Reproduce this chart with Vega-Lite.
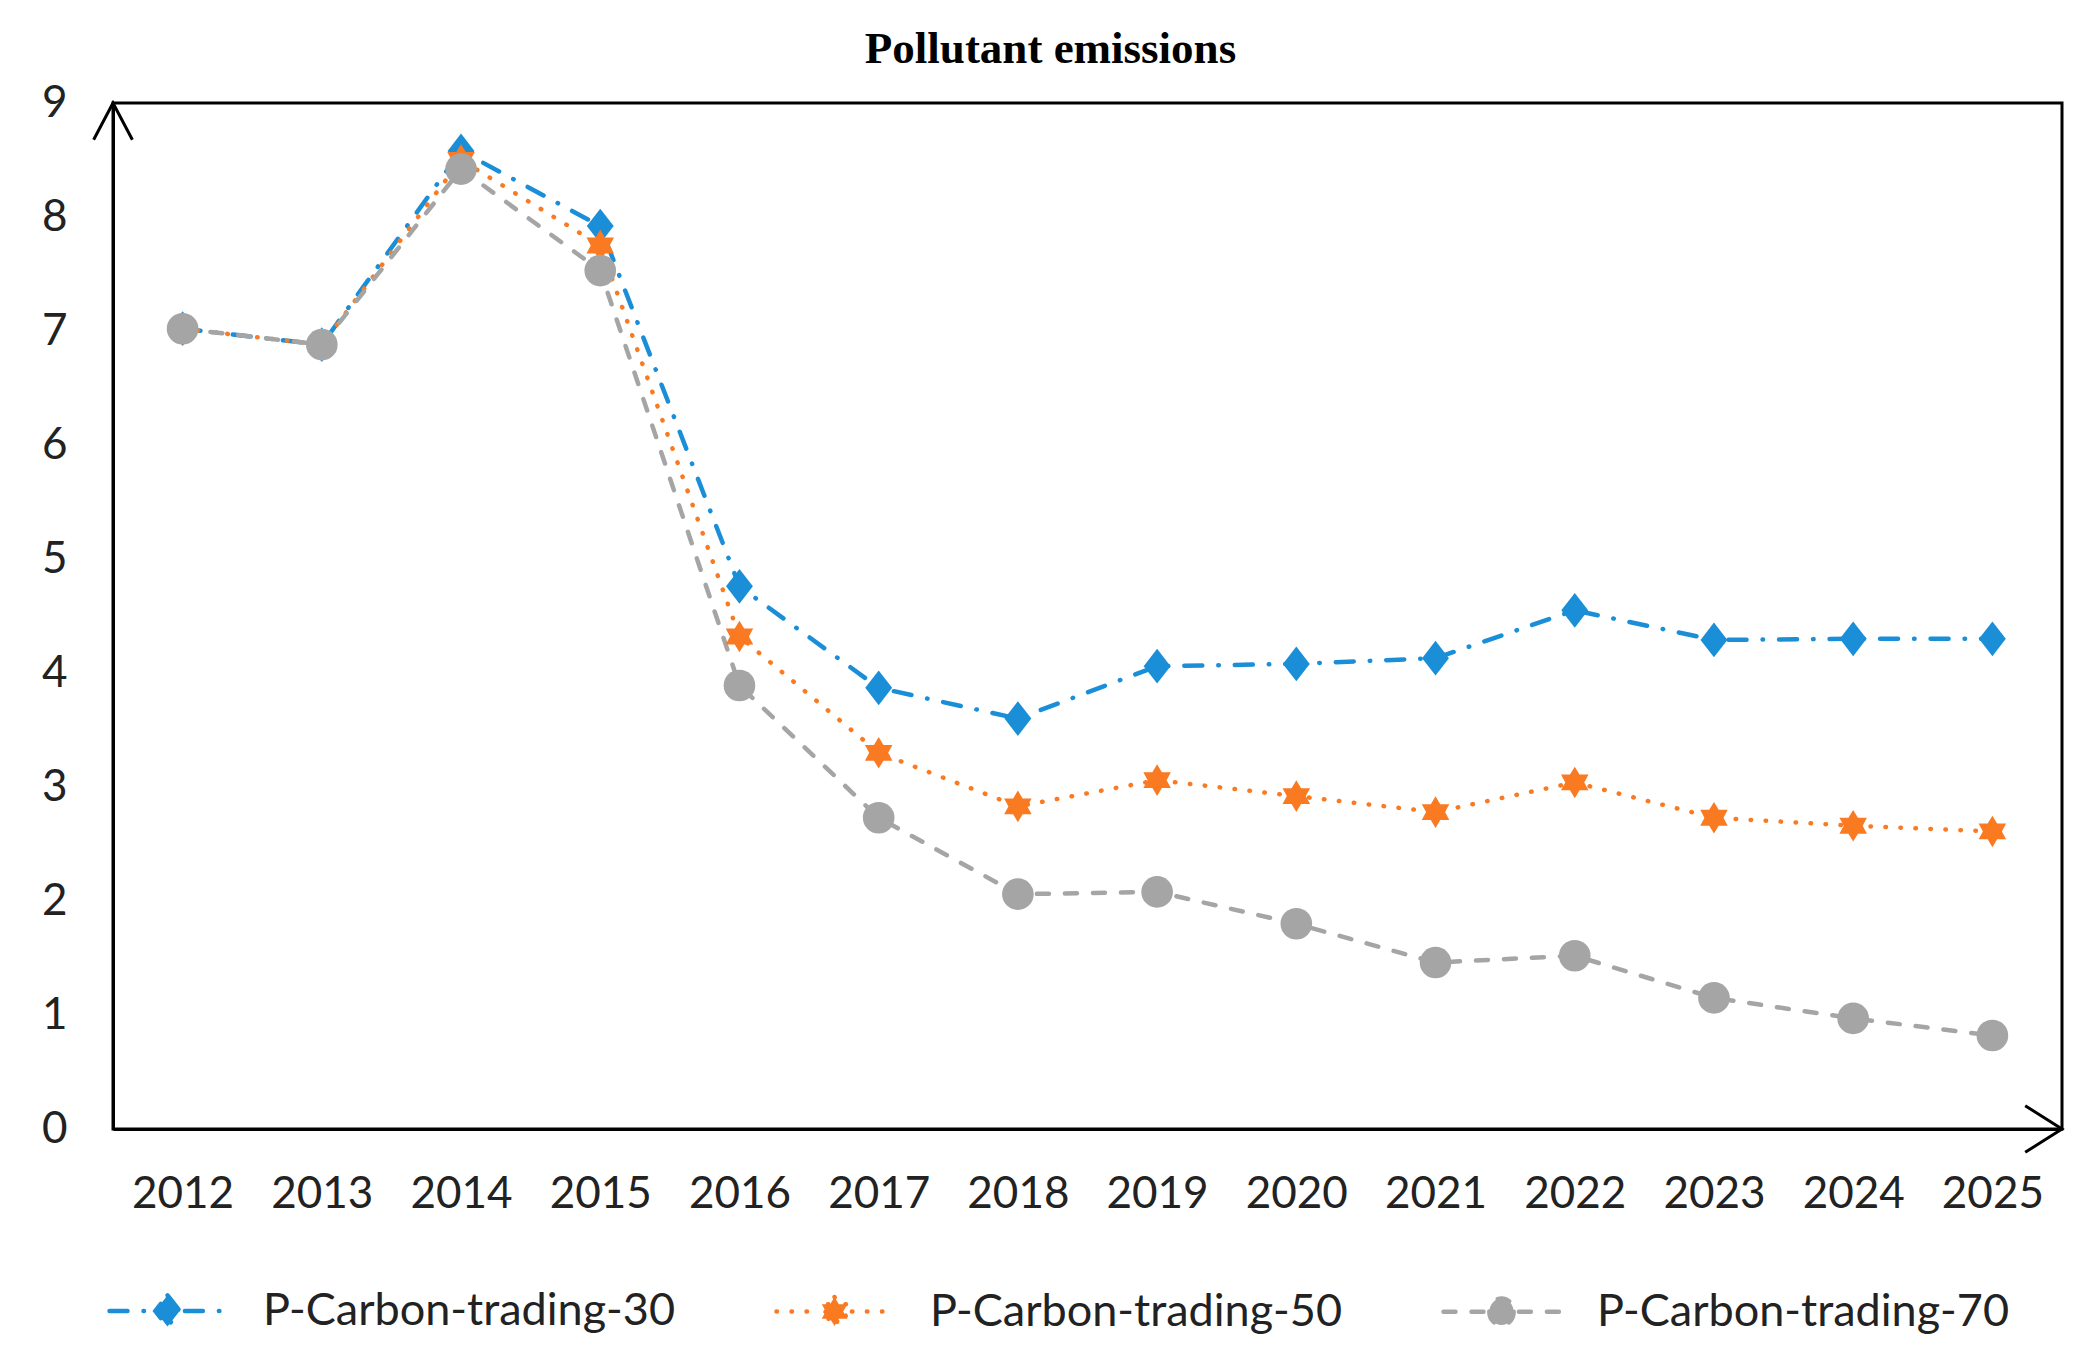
{
  "$schema": "https://vega.github.io/schema/vega-lite/v6.json",
  "autosize": {"type": "none"},
  "width": 1949,
  "height": 1026,
  "padding": {"left": 113, "top": 103, "right": 29, "bottom": 228},
  "background": "white",
  "config": {
    "view": {"stroke": "black", "strokeWidth": 3},
    "font": "Lato"
  },
  "title": {
    "text": "Pollutant emissions",
    "font": "Liberation Serif",
    "fontWeight": "bold",
    "fontSize": 45,
    "color": "black",
    "anchor": "middle",
    "offset": 9,
    "dx": -37
  },
  "resolve": {"scale": {"shape": "independent"}},
  "datasets": {
    "series": [
      {"year": 2012, "series": "P-Carbon-trading-30", "value": 7.02},
      {"year": 2013, "series": "P-Carbon-trading-30", "value": 6.88},
      {"year": 2014, "series": "P-Carbon-trading-30", "value": 8.58},
      {"year": 2015, "series": "P-Carbon-trading-30", "value": 7.92},
      {"year": 2016, "series": "P-Carbon-trading-30", "value": 4.76},
      {"year": 2017, "series": "P-Carbon-trading-30", "value": 3.87},
      {"year": 2018, "series": "P-Carbon-trading-30", "value": 3.6},
      {"year": 2019, "series": "P-Carbon-trading-30", "value": 4.06},
      {"year": 2020, "series": "P-Carbon-trading-30", "value": 4.08},
      {"year": 2021, "series": "P-Carbon-trading-30", "value": 4.13},
      {"year": 2022, "series": "P-Carbon-trading-30", "value": 4.55},
      {"year": 2023, "series": "P-Carbon-trading-30", "value": 4.29},
      {"year": 2024, "series": "P-Carbon-trading-30", "value": 4.3},
      {"year": 2025, "series": "P-Carbon-trading-30", "value": 4.3},
      {"year": 2012, "series": "P-Carbon-trading-50", "value": 7.02},
      {"year": 2013, "series": "P-Carbon-trading-50", "value": 6.88},
      {"year": 2014, "series": "P-Carbon-trading-50", "value": 8.5},
      {"year": 2015, "series": "P-Carbon-trading-50", "value": 7.75},
      {"year": 2016, "series": "P-Carbon-trading-50", "value": 4.32},
      {"year": 2017, "series": "P-Carbon-trading-50", "value": 3.3},
      {"year": 2018, "series": "P-Carbon-trading-50", "value": 2.83},
      {"year": 2019, "series": "P-Carbon-trading-50", "value": 3.06},
      {"year": 2020, "series": "P-Carbon-trading-50", "value": 2.92},
      {"year": 2021, "series": "P-Carbon-trading-50", "value": 2.78},
      {"year": 2022, "series": "P-Carbon-trading-50", "value": 3.04},
      {"year": 2023, "series": "P-Carbon-trading-50", "value": 2.73},
      {"year": 2024, "series": "P-Carbon-trading-50", "value": 2.66},
      {"year": 2025, "series": "P-Carbon-trading-50", "value": 2.61},
      {"year": 2012, "series": "P-Carbon-trading-70", "value": 7.02},
      {"year": 2013, "series": "P-Carbon-trading-70", "value": 6.88},
      {"year": 2014, "series": "P-Carbon-trading-70", "value": 8.42},
      {"year": 2015, "series": "P-Carbon-trading-70", "value": 7.53},
      {"year": 2016, "series": "P-Carbon-trading-70", "value": 3.89},
      {"year": 2017, "series": "P-Carbon-trading-70", "value": 2.73},
      {"year": 2018, "series": "P-Carbon-trading-70", "value": 2.06},
      {"year": 2019, "series": "P-Carbon-trading-70", "value": 2.08},
      {"year": 2020, "series": "P-Carbon-trading-70", "value": 1.8},
      {"year": 2021, "series": "P-Carbon-trading-70", "value": 1.46},
      {"year": 2022, "series": "P-Carbon-trading-70", "value": 1.52},
      {"year": 2023, "series": "P-Carbon-trading-70", "value": 1.15},
      {"year": 2024, "series": "P-Carbon-trading-70", "value": 0.97},
      {"year": 2025, "series": "P-Carbon-trading-70", "value": 0.82}
    ],
    "arrows": [
      {"year": 2011.5, "value": 9, "dir": "up"},
      {"year": 2025.5, "value": 0, "dir": "right"}
    ]
  },
  "layer": [
    {
      "data": {"name": "series"},
      "mark": {"type": "line", "strokeWidth": 4.5, "strokeCap": "round"},
      "encoding": {
        "x": {
          "field": "year", "type": "quantitative",
          "scale": {"domain": [2011.5, 2025.5], "nice": false, "zero": false},
          "axis": {
            "title": null, "values": [2012,2013,2014,2015,2016,2017,2018,2019,2020,2021,2022,2023,2024,2025],
            "format": "d", "grid": false, "ticks": false,
            "domainColor": "black", "domainWidth": 3,
            "labelFont": "Lato", "labelFontSize": 44, "labelColor": "#222222",
            "labelPadding": 43, "labelFlush": false, "labelOverlap": false
          }
        },
        "y": {
          "field": "value", "type": "quantitative",
          "scale": {"domain": [0, 9], "nice": false},
          "axis": {
            "title": null, "values": [0,1,2,3,4,5,6,7,8,9], "format": "d", "grid": false, "ticks": false,
            "domainColor": "black", "domainWidth": 3,
            "labelFont": "Lato", "labelFontSize": 44, "labelColor": "#222222",
            "labelPadding": 46, "labelFlush": false, "labelOverlap": false
          }
        },
        "color": {
          "field": "series", "type": "nominal",
          "scale": {"domain": ["P-Carbon-trading-30", "P-Carbon-trading-50", "P-Carbon-trading-70"], "range": ["#1a8fd8", "#fa7a22", "#a5a5a5"]},
          "legend": {
            "title": null,
            "orient": "none",
            "direction": "horizontal",
            "legendX": -6,
            "legendY": 1147,
            "symbolSize": 13456,
            "symbolStrokeWidth": 4.5,
            "labelFont": "Lato",
            "labelFontSize": 45,
            "labelColor": "#222222",
            "labelLimit": 800,
            "labelOffset": 35,
            "columnPadding": 92,
            "encode": {
              "symbols": {
                "update": {
                  "shape": {"signal": "datum.value === 'P-Carbon-trading-30' ? 'M-1,0L-0.3,0M0.3,0L1,0M0,-0.27L0.21,0L0,0.27L-0.21,0Z' : datum.value === 'P-Carbon-trading-50' ? 'M-1,0L-0.3,0M0.3,0L1,0M0,-0.25L0.075,-0.125L0.22,-0.125L0.15,0L0.22,0.125L0.075,0.125L0,0.25L-0.075,0.125L-0.22,0.125L-0.15,0L-0.22,-0.125L-0.075,-0.125Z' : 'M-1,0L-0.3,0M0.3,0L1,0M0.21,0A0.21,0.23 0 1,1 -0.21,0A0.21,0.23 0 1,1 0.21,0Z'"},
                  "strokeDash": {"signal": "datum.value === 'P-Carbon-trading-30' ? [18,16,0.5,16] : datum.value === 'P-Carbon-trading-50' ? [0.5,13] : [12,14]"},
                  "strokeCap": {"value": "round"},
                  "fill": {"signal": "datum.value === 'P-Carbon-trading-30' ? '#1a8fd8' : datum.value === 'P-Carbon-trading-50' ? '#fa7a22' : '#a5a5a5'"},
                  "fillOpacity": {"value": 1},
                  "stroke": {"signal": "datum.value === 'P-Carbon-trading-30' ? '#1a8fd8' : datum.value === 'P-Carbon-trading-50' ? '#fa7a22' : '#a5a5a5'"}
                }
              }
            }
          }
        },
        "strokeDash": {
          "field": "series", "type": "nominal",
          "scale": {"domain": ["P-Carbon-trading-30", "P-Carbon-trading-50", "P-Carbon-trading-70"], "range": [[18,16,0.5,16], [0.5,14.5], [12,16]]},
          "legend": null
        }
      }
    },
    {
      "data": {"name": "series"},
      "mark": {"type": "point", "filled": true, "opacity": 1, "size": 1000},
      "encoding": {
        "x": {"field": "year", "type": "quantitative"},
        "y": {"field": "value", "type": "quantitative"},
        "color": {"field": "series", "type": "nominal", "legend": null},
        "shape": {
          "field": "series", "type": "nominal",
          "scale": {"domain": ["P-Carbon-trading-30", "P-Carbon-trading-50", "P-Carbon-trading-70"], "range": ["M0,-1.1L0.85,0L0,1.1L-0.85,0Z", "M0,-1L0.3,-0.5L0.87,-0.5L0.6,0L0.87,0.5L0.3,0.5L0,1L-0.3,0.5L-0.87,0.5L-0.6,0L-0.87,-0.5L-0.3,-0.5Z", "circle"]},
          "legend": null
        }
      }
    },
    {
      "data": {"name": "arrows"},
      "mark": {"type": "point", "filled": false, "stroke": "black", "strokeWidth": 3, "size": 6000, "opacity": 1},
      "encoding": {
        "x": {"field": "year", "type": "quantitative"},
        "y": {"field": "value", "type": "quantitative"},
        "shape": {
          "field": "dir", "type": "nominal",
          "scale": {"domain": ["up", "right"], "range": ["M-0.5,0.95L0,0L0.5,0.95", "M-0.95,-0.6L0,0L-0.95,0.6"]},
          "legend": null
        }
      }
    }
  ]
}
